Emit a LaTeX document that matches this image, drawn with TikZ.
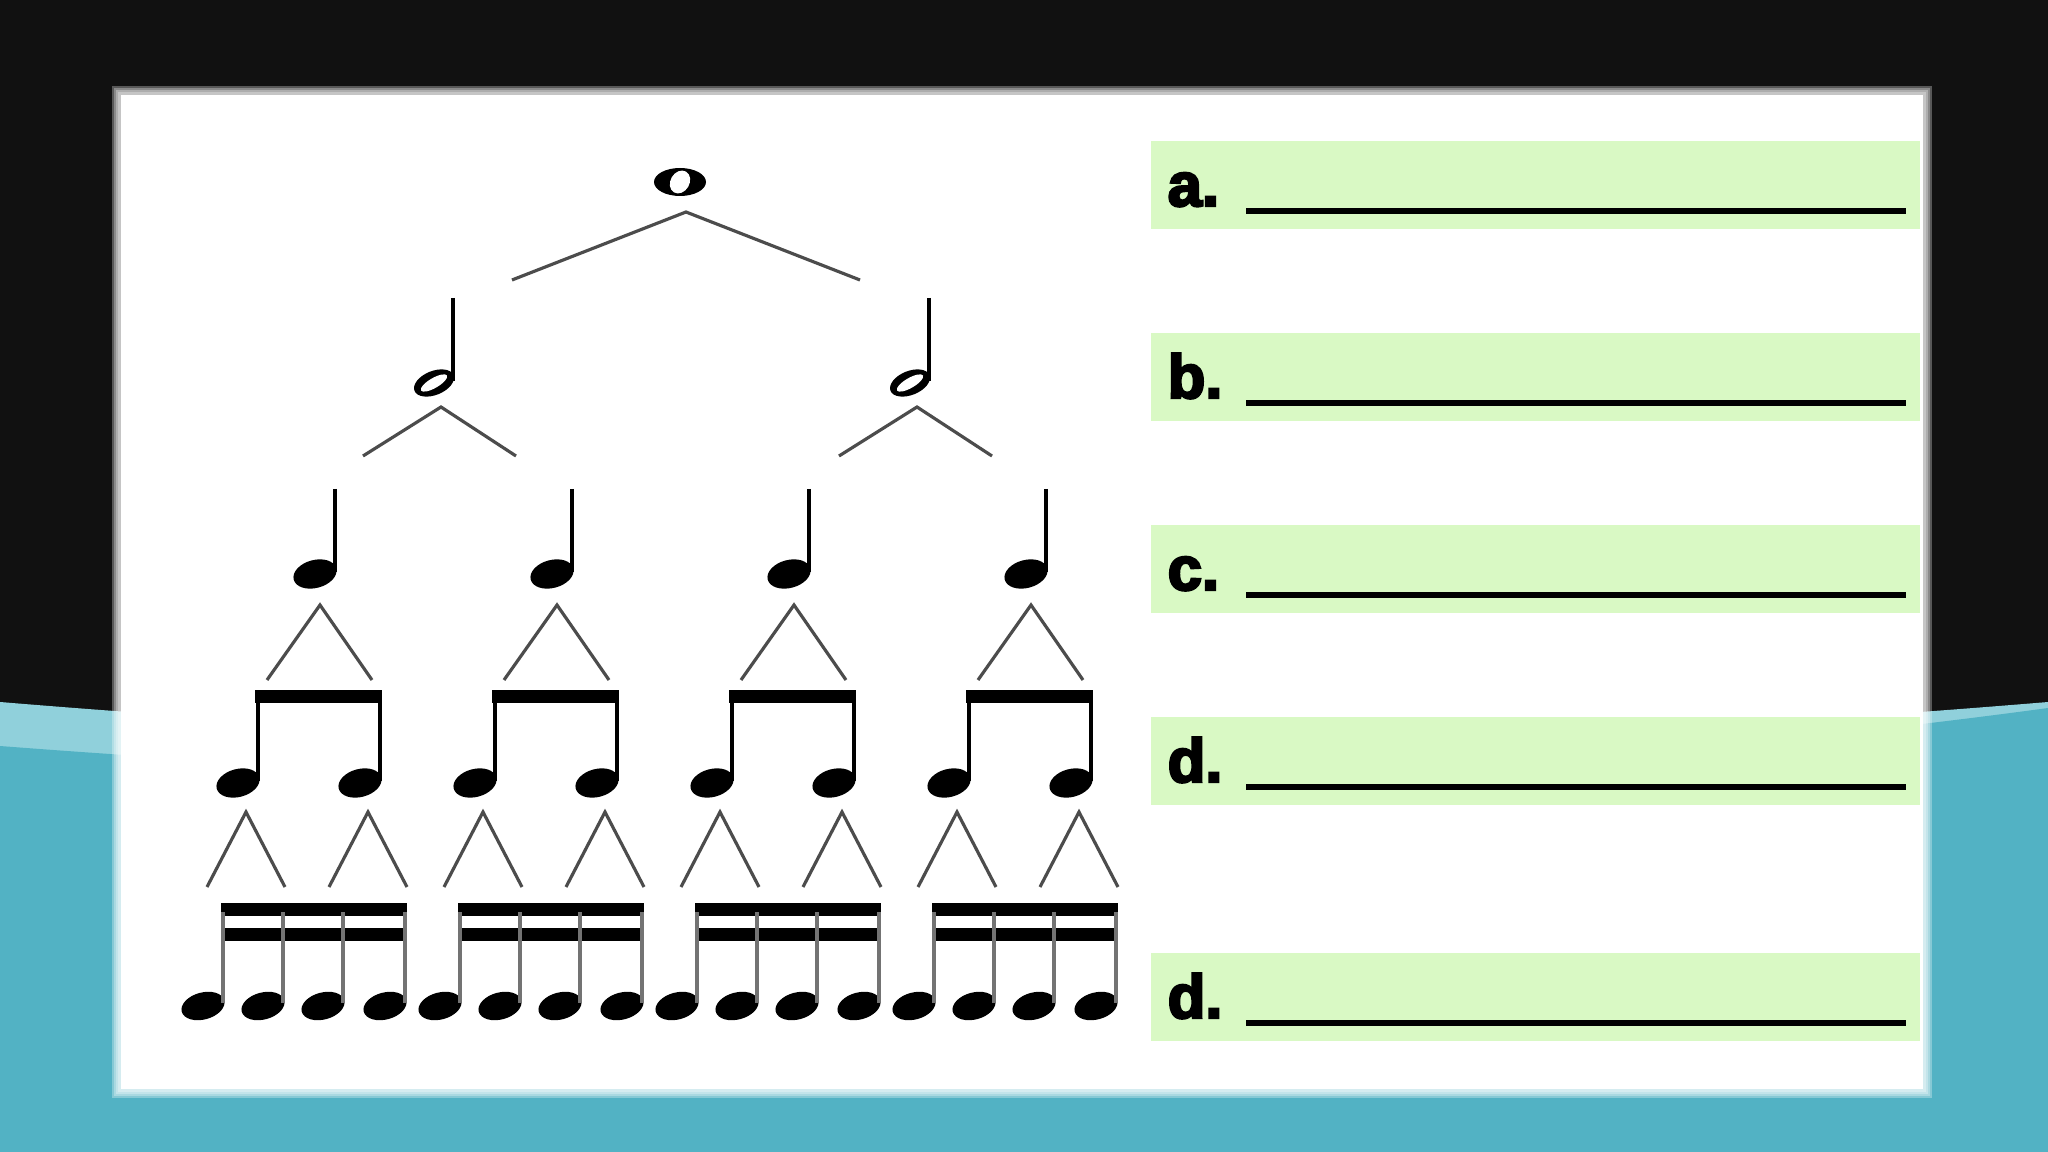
\documentclass[tikz,border=0pt]{standalone}
\usepackage{fontspec}
\newfontfamily\labelfont{Liberation Sans}[FakeBold=4]
\definecolor{bgblack}{HTML}{111111}
\definecolor{bglight}{HTML}{90D0DB}
\definecolor{bgteal}{HTML}{52B2C4}
\definecolor{boxgreen}{HTML}{D9F9C4}
\tikzset{
  branch/.style={line width=0.9pt, black!70},
  stem/.style={line width=1.4pt},
  beam/.style={fill=black},
  answerbox/.style={fill=boxgreen},
  answerline/.style={line width=1.45pt},
  answerlabel/.style={font=\labelfont\bfseries\fontsize{17.5}{20}\selectfont, inner sep=0pt}
}

\begin{document}
\begin{tikzpicture}[x=0.01cm,y=-0.01cm]
      \useasboundingbox (0,0) rectangle (2048,1152);
      % background
      \fill[bgblack] (0,0) rectangle (2048,1152);
      \fill[bglight] (0,702) .. controls (700,760) and (1350,760) .. (2048,702) -- (2048,1152) -- (0,1152) -- cycle;
      \fill[bgteal] (0,746) .. controls (700,800) and (1400,796) .. (2048,708) -- (2048,1152) -- (0,1152) -- cycle;
      % white panel with soft edge
      \foreach \d in {8,6,4,2}
        \fill[white,opacity=0.3] (120-\d,94-\d) rectangle (1924+\d,1090+\d);
      \fill[white] (121,95) rectangle (1923,1089);

      % whole note
      \fill (680,182) ellipse [x radius=26, y radius=14];
      \fill[white,rotate around={-30:(680,182)}] (680,182) ellipse [x radius=9.5, y radius=12];
      \coordinate (w) at (686,212);
      \coordinate (w-l) at (512,280);
      \coordinate (w-r) at (860,280);
      \draw[branch] (w-l) -- (w) -- (w-r);

      % half notes
      \foreach \h/\x in {1/434,2/910} {
        \fill[rotate around={22:(\x,383)}] (\x,383) ellipse [x radius=21, y radius=12];
        \fill[white,rotate around={30:(\x,383)}] (\x,383) ellipse [x radius=15, y radius=5];
        \draw[stem,line width=1.2pt] (\x+19,298) -- (\x+19,381);
        \coordinate (h\h) at (\x+7,407);
        \coordinate (h\h-l) at (\x-71,456);
        \coordinate (h\h-r) at (\x+82,456);
        \draw[branch] (h\h-l) -- (h\h) -- (h\h-r);
      }

      % quarter notes, eighths and sixteenths
      \foreach \k in {0,...,3} {
        \pgfmathsetmacro{\gx}{237*\k}
        % quarter
        \fill[rotate around={15:(315+\gx,574)}] (315+\gx,574) ellipse [x radius=22, y radius=14];
        \draw[stem] (335+\gx,489) -- (335+\gx,572);
        \coordinate (q\k) at (320+\gx,605);
        \coordinate (q\k-l) at (267+\gx,680);
        \coordinate (q\k-r) at (372+\gx,680);
        \draw[branch] (q\k-l) -- (q\k) -- (q\k-r);
        % eighths
        \fill[beam] (255+\gx,690) rectangle (382+\gx,703);
        \foreach \e/\j in {238/1,360/2} {
          \fill[rotate around={15:(\e+\gx,783)}] (\e+\gx,783) ellipse [x radius=22, y radius=14];
          \draw[stem] (\e+20+\gx,697) -- (\e+20+\gx,781);
          \coordinate (e\k\j) at (\e+8+\gx,812);
          \coordinate (e\k\j-l) at (\e-31+\gx,887);
          \coordinate (e\k\j-r) at (\e+47+\gx,887);
          \draw[branch] (e\k\j-l) -- (e\k\j) -- (e\k\j-r);
        }
        % sixteenths
        \fill[beam] (221+\gx,903) rectangle (407+\gx,916);
        \fill[beam] (221+\gx,928) rectangle (407+\gx,941);
        \foreach \s in {0,60,120,182} {
          \fill[rotate around={15:(203+\s+\gx,1006)}] (203+\s+\gx,1006) ellipse [x radius=22, y radius=13.5];
          \draw[stem,black!55,line width=1.2pt] (223+\s+\gx,912) -- (223+\s+\gx,1003);
        }
      }

      % answer boxes
      \foreach \lab/\ytop [count=\i] in {a/141,b/333,c/525,d/717,d/953} {
        \fill[answerbox] (1151,\ytop) rectangle (1920,\ytop+88);
        \node[answerlabel,anchor=base west] (label\i) at (1167,\ytop+65) {\lab.};
        \coordinate (line\i) at (1246,\ytop+70);
        \draw[answerline] (line\i) -- ++(660,0);
      }
\end{tikzpicture}
\end{document}
